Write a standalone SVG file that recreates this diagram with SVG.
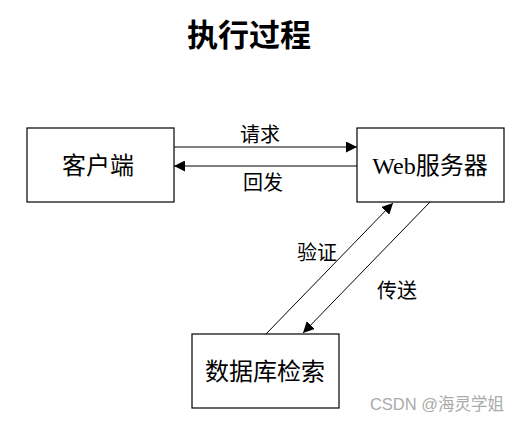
<svg xmlns="http://www.w3.org/2000/svg" width="521" height="422" viewBox="0 0 521 422">
<style>
.box{fill:#fff;stroke:#000;stroke-width:1.2}
.t{font-family:"Liberation Serif","Noto Sans CJK SC",serif;fill:#000;text-anchor:middle}
.n{font-size:24px}
.l{font-size:20px}
.c{stroke:#000;stroke-width:1;fill:none;marker-end:url(#ah)}
.wm{font-family:"Liberation Sans","Noto Sans CJK SC",sans-serif;font-size:16.5px;fill:#aaa;text-anchor:end}
</style>
<defs>
<marker id="ah" viewBox="0 0 10 10" refX="10" refY="5" markerWidth="11" markerHeight="11" markerUnits="userSpaceOnUse" orient="auto">
<path d="M0,0 L10,5 L0,10 Z" fill="#000"/>
</marker>
</defs>
<rect width="521" height="422" fill="#fff"/>
<text class="t" x="249" y="46" font-size="31" font-weight="bold">执行过程</text>
<g id="client"><rect class="box" x="27" y="128" width="147" height="74"/><text class="t n" x="98" y="174">客户端</text></g>
<g id="web"><rect class="box" x="357" y="128" width="147" height="74"/><text class="t n" x="430" y="174">Web服务器</text></g>
<g id="db"><rect class="box" x="192" y="334" width="147" height="74"/><text class="t n" x="265" y="380">数据库检索</text></g>
<g id="connectors">
<line class="c" x1="174" y1="147" x2="357" y2="147"/>
<line class="c" x1="357" y1="166" x2="174" y2="166"/>
<line class="c" x1="266" y1="334" x2="393" y2="203"/>
<line class="c" x1="430" y1="202" x2="303" y2="333"/>
<text class="t l" x="260" y="142">请求</text>
<text class="t l" x="263" y="190">回发</text>
<text class="t l" x="317" y="260">验证</text>
<text class="t l" x="397" y="298">传送</text>
</g>
<text class="wm" x="504" y="410">CSDN @海灵学姐</text>
</svg>
